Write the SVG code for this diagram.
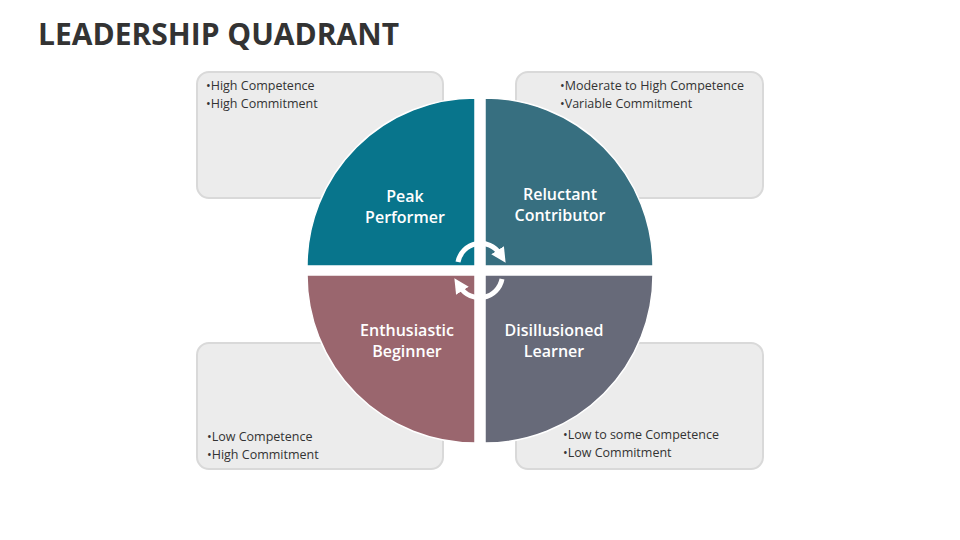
<svg xmlns="http://www.w3.org/2000/svg" width="960" height="540" viewBox="0 0 960 540">
<style>
.box{fill:#ececec;stroke:#d9d9d9;stroke-width:2}
.bt{font-family:"Open Sans","Liberation Sans",sans-serif;font-size:12.5px;fill:#333}
.lbl{font-family:"Open Sans","Liberation Sans",sans-serif;font-size:16px;font-weight:600;fill:#fff;text-anchor:middle}
.arc{fill:none;stroke:#fff;stroke-width:5}
</style>
<defs>
<marker id="ah" viewBox="0 0 10 10" refX="3" refY="5" markerWidth="3" markerHeight="3" orient="auto"><path d="M0,0 L10,5 L0,10 Z" fill="#fff"/></marker>
</defs>
<rect width="960" height="540" fill="#fff"/>
<text x="38" y="45" font-family="'Open Sans','Liberation Sans',sans-serif" font-size="30" font-weight="700" fill="#333">LEADERSHIP QUADRANT</text>
<g id="box-tl"><rect class="box" x="197" y="72" width="246" height="126" rx="12"/>
<text class="bt" x="206" y="90">•High Competence</text><text class="bt" x="206" y="108">•High Commitment</text></g>
<g id="box-tr"><rect class="box" x="516" y="72" width="247" height="126" rx="12"/>
<text class="bt" x="560" y="90">•Moderate to High Competence</text><text class="bt" x="560" y="108">•Variable Commitment</text></g>
<g id="box-bl"><rect class="box" x="197" y="343" width="246" height="126" rx="12"/>
<text class="bt" x="207" y="441">•Low Competence</text><text class="bt" x="207" y="459">•High Commitment</text></g>
<g id="box-br"><rect class="box" x="516" y="343" width="247" height="126" rx="12"/>
<text class="bt" x="563" y="439">•Low to some Competence</text><text class="bt" x="563" y="457">•Low Commitment</text></g>
<g id="q-tl"><path d="M475,266 L307,266 A168,168 0 0 1 475,98 Z" fill="#08758c" stroke="#fff" stroke-width="1.5"/>
<text class="lbl" x="405" y="202">Peak</text><text class="lbl" x="405" y="223">Performer</text></g>
<g id="q-tr"><path d="M485,266 L485,98 A168,168 0 0 1 653,266 Z" fill="#376f80" stroke="#fff" stroke-width="1.5"/>
<text class="lbl" x="560" y="200">Reluctant</text><text class="lbl" x="560" y="221">Contributor</text></g>
<g id="q-bl"><path d="M475,275 L475,443 A168,168 0 0 1 307,275 Z" fill="#9a666e" stroke="#fff" stroke-width="1.5"/>
<text class="lbl" x="407" y="336">Enthusiastic</text><text class="lbl" x="407" y="357">Beginner</text></g>
<g id="q-br"><path d="M485,275 L653,275 A168,168 0 0 1 485,443 Z" fill="#676a79" stroke="#fff" stroke-width="1.5"/>
<text class="lbl" x="554" y="336">Disillusioned</text><text class="lbl" x="554" y="357">Learner</text></g>
<g id="connectors">
<path class="arc" d="M458,262 A23,23 0 0 1 500,254" marker-end="url(#ah)"/>
<path class="arc" d="M502,279 A23,23 0 0 1 460,287" marker-end="url(#ah)"/>
</g>
</svg>
